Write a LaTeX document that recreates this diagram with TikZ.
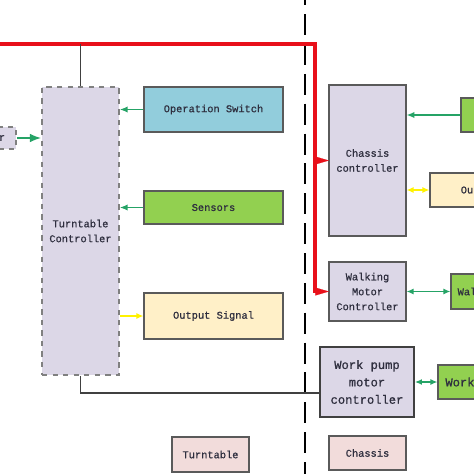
\documentclass[tikz,border=0pt]{standalone}
\usepackage{fontspec}
\setmonofont[FakeBold=0.9]{Liberation Mono}
\usetikzlibrary{arrows.meta}
\definecolor{lav}{HTML}{DCD7E7}
\definecolor{skyb}{HTML}{92CDDC}
\definecolor{leaf}{HTML}{92D050}
\definecolor{cream}{HTML}{FFF0C8}
\definecolor{rose}{HTML}{F2DCDB}
\definecolor{boxline}{HTML}{5A5A5A}
\definecolor{txt}{HTML}{2F2F3F}
\definecolor{grn}{HTML}{25A366}
\definecolor{busred}{HTML}{E8101A}
\begin{document}
\begin{tikzpicture}[x=0.02cm,y=-0.02cm,
  box/.style={draw=boxline,line width=0.6pt,minimum width=1.54cm,align=center,inner sep=1pt,
    text=txt,font=\ttfamily\fontsize{5.9}{8.5}\selectfont},
  bigtext/.style={font=\ttfamily\fontsize{6.9}{9.9}\selectfont},
  ctrl/.style={box,fill=lav},
  sig/.style={grn,line width=0.8pt,-{Latex[length=4.5pt,width=3.6pt]}},
  sigboth/.style={grn,line width=0.8pt,{Latex[length=4pt,width=3.4pt]}-{Latex[length=4pt,width=3.4pt]}},
  outsig/.style={yellow,line width=0.8pt,-{Latex[length=4pt,width=3.4pt]}},
  outboth/.style={yellow,line width=0.8pt,{Latex[length=4pt,width=3.4pt]}-{Latex[length=4pt,width=3.4pt]}},
  redbus/.style={busred,line width=1.9pt},
  divider/.style={black,line width=1.7pt,dash pattern=on 12pt off 5pt,dash phase=9pt}]
\useasboundingbox (0,0) rectangle (474,474);
\clip (0,0) rectangle (474,474);
\fill[white] (0,0) rectangle (474,474);

% turntable side
\node[ctrl,draw=gray,dashed,line width=0.9pt,minimum height=5.76cm] (tc) at (80.5,231) {Turntable\\Controller};
\node[ctrl,draw=gray,dashed,line width=0.9pt,minimum width=0.56cm,minimum height=0.44cm] (lb) at (2,138) {r};
\node[box,fill=skyb,minimum width=2.78cm,minimum height=0.9cm] (os) at (213.5,109.5) {Operation Switch};
\node[box,fill=leaf,minimum width=2.78cm,minimum height=0.66cm] (sn) at (213.5,207.5) {Sensors};
\node[box,fill=cream,minimum width=2.78cm,minimum height=0.92cm] (osig) at (213.5,316) {Output Signal};
\node[box,fill=rose,minimum height=0.7cm] (tt) at (210.5,454.5) {Turntable};

% chassis side
\node[ctrl,minimum height=3.02cm] (cc) at (367.5,160.5) {Chassis\\controller};
\node[ctrl,minimum height=1.18cm] (wmc) at (367.5,291.5) {Walking\\Motor\\Controller};
\node[ctrl,bigtext,draw=darkgray,line width=1pt,minimum width=1.88cm,minimum height=1.4cm] (wpmc) at (367,382) {Work pump\\motor\\controller};
\node[box,fill=rose,minimum height=0.68cm] (ch) at (367.5,453) {Chassis};
\node[box,fill=leaf,minimum width=0.76cm,minimum height=0.68cm] (rg) at (480,115) {};
\node[box,fill=cream,minimum width=1.48cm,minimum height=0.68cm] (ro) at (467,190) {Ou};
\node[box,fill=leaf,minimum width=0.64cm,minimum height=0.7cm] (wal) at (467,291.5) {Wal};
\node[box,bigtext,fill=leaf,minimum width=0.88cm,minimum height=0.68cm] (wk) at (460,382) {Work};

% divider
\coordinate (divT) at (305,0);
\coordinate (divB) at (305,474);
\draw[divider] (divT) -- (divB);

% red bus
\coordinate (redL) at (0,44);
\coordinate (redR) at (315,44);
\draw[redbus] (redL) -- (redR) |- ([xshift=-5pt]wmc.west);
\draw[busred,line width=0.1pt,fill=busred] (wmc.west) -- ++(-7.4pt,2.2pt) -- ++(0,-4.4pt) -- cycle;
\draw[busred,line width=0.1pt,fill=busred] (cc.west) -- ++(-7.4pt,2.2pt) -- ++(0,-4.4pt) -- cycle;

% black links
\draw[darkgray,line width=0.7pt] (tc.north) -- (tc.north |- redR);
\draw[darkgray,line width=0.7pt] (tc.south) |- ([yshift=-6.2pt]wpmc.west);

% signals
\draw[sig,line width=1.1pt,-{Latex[length=6.5pt,width=5pt]}] (lb.east) -- (lb.east -| tc.west);
\draw[sig] (os.west) -- (os.west -| tc.east);
\draw[sig] (sn.west) -- (sn.west -| tc.east);
\draw[outsig] (osig.west -| tc.east) -- (osig.west);
\draw[sig] (rg.west |- 0,115) -- (cc.east |- 0,115);
\draw[outboth] (ro.west -| cc.east) -- (ro.west);
\draw[sigboth] (wmc.east) -- (wal.west);
\draw[sigboth] (wpmc.east) -- (wk.west);
\end{tikzpicture}
\end{document}
